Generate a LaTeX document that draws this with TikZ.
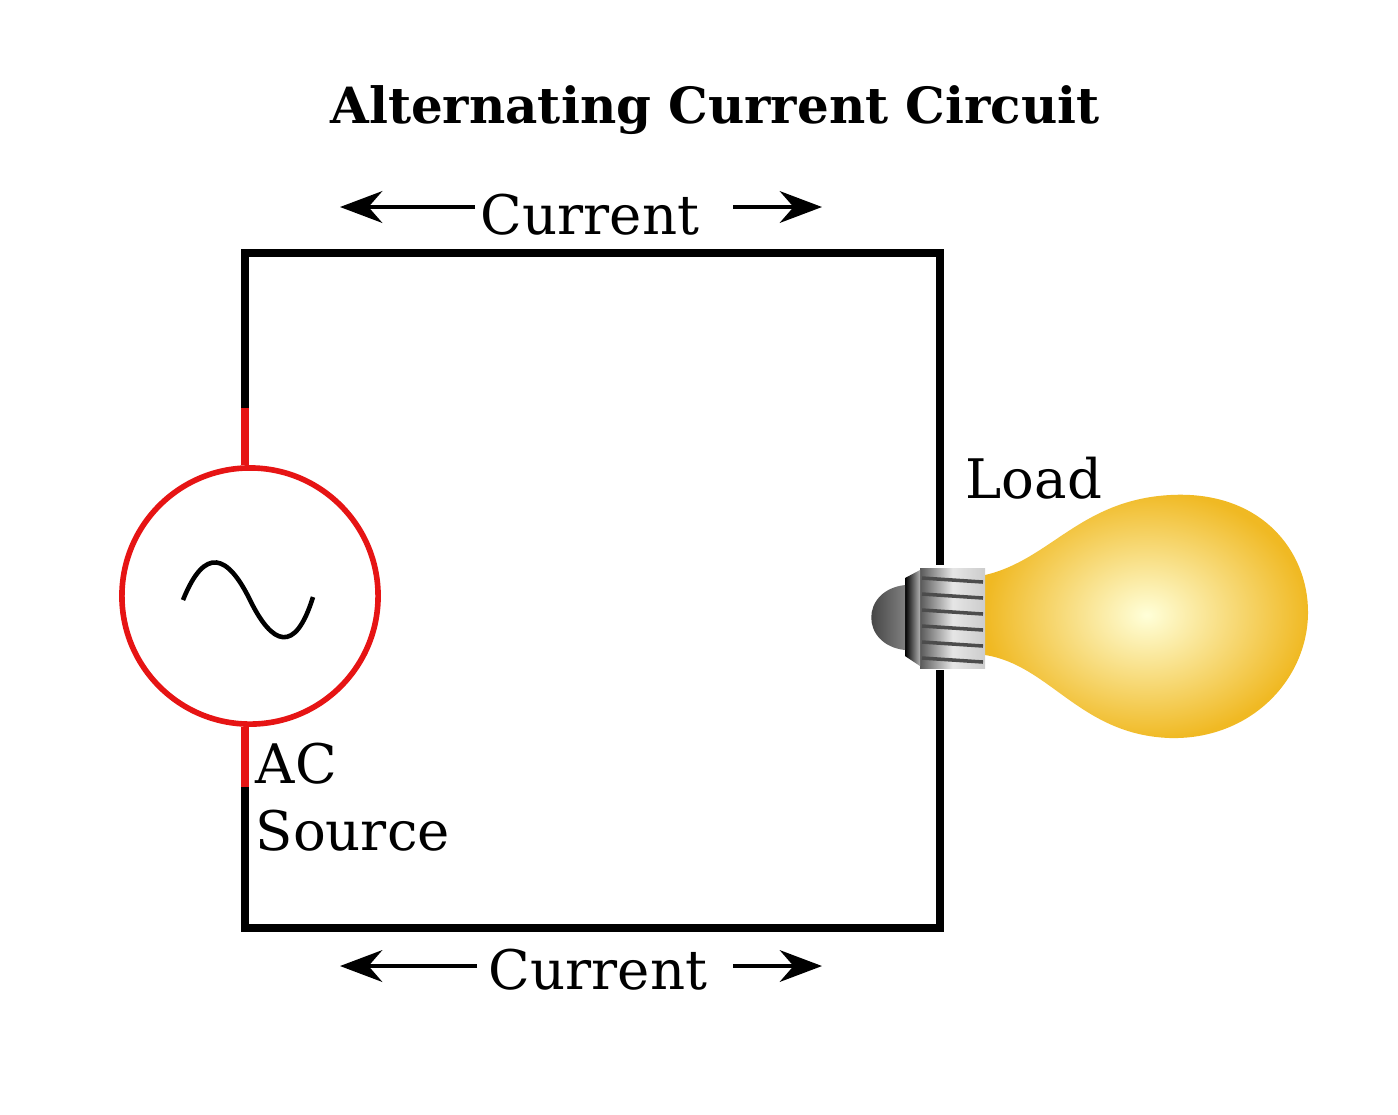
\documentclass[tikz,border=0pt]{standalone}
\usepackage{fontspec}
\setmainfont{DejaVu Serif}
\usetikzlibrary{arrows.meta}
\definecolor{wirered}{RGB}{230,20,20}
\definecolor{bulbyel}{RGB}{240,185,35}
\tikzset{
  wire/.style={line width=2.2pt, black},
  redwire/.style={line width=2.2pt, wirered},
  flow/.style={line width=1.2pt, -{Stealth[length=12pt,width=9pt]}},
  lbl/.style={font=\fontsize{15.5}{19}\selectfont, inner sep=0pt}
}
\begin{document}
\begin{tikzpicture}[x=0.01cm, y=-0.01cm]
\useasboundingbox (0,0) rectangle (1398,1114);
\node[font=\fontsize{14.2}{18}\selectfont\bfseries] (title) at (715,110) {Alternating Current Circuit};
% wires
\coordinate (tl) at (245,253);
\coordinate (tr) at (940,253);
\coordinate (bl) at (245,928);
\coordinate (br) at (940,928);
\coordinate (rt) at (245,408);
\coordinate (rb) at (245,787);
\coordinate (lt) at (940,565);
\coordinate (lb) at (940,670);
\draw[wire] (rt) -- (tl) -- (tr) -- (lt);
\draw[wire] (lb) -- (br) -- (bl) -- (rb);
% source
\node[draw=wirered, line width=1.6pt, circle, minimum size=2.56cm] (src) at (250,596) {};
\draw[redwire] (rt) -- (src.north -| rt);
\draw[redwire] (rb) -- (src.south -| rb);
\draw[line width=1.3pt] (183,600) .. controls (205,545) and (228,555) .. (250,600)
  .. controls (272,645) and (295,655) .. (313,597);
% bulb
\shade[inner color=yellow!15, outer color=bulbyel]
  (985,575) .. controls (1050,560) and (1080,500) .. (1170,495)
  .. controls (1260,490) and (1308,550) .. (1308,612)
  .. controls (1308,680) and (1250,740) .. (1170,738)
  .. controls (1080,735) and (1050,665) .. (985,655) -- cycle;
\shade[left color=gray!70!black, right color=gray!40, middle color=gray!20]
  (920,568) rectangle (985,668);
\foreach \yy in {578,594,610,626,642,658}
  \draw[gray!60!black, line width=1pt] (922,\yy) -- (983,\yy+4);
\shade[left color=black, right color=gray!60] (905,578) -- (920,570) -- (920,666) -- (905,656) -- cycle;
\shade[left color=black!80, right color=gray] (905,585) .. controls (860,590) and (860,645) .. (905,650) -- cycle;
\node[lbl, anchor=south west] (load) at (965,500) {Load};
\node[lbl, anchor=north west, align=left] (acs) at (255,742) {AC\\Source};
% current arrows
\node[lbl] (ctop) at (590,215) {Current};
\node[lbl] (cbot) at (598,970) {Current};
\coordinate (a1) at (340,207);
\coordinate (a2) at (822,207);
\coordinate (a3) at (340,966);
\coordinate (a4) at (822,966);
\draw[flow] (475,207) -- (a1);
\draw[flow] (733,207) -- (a2);
\draw[flow] (477,966) -- (a3);
\draw[flow] (733,966) -- (a4);
\end{tikzpicture}
\end{document}
